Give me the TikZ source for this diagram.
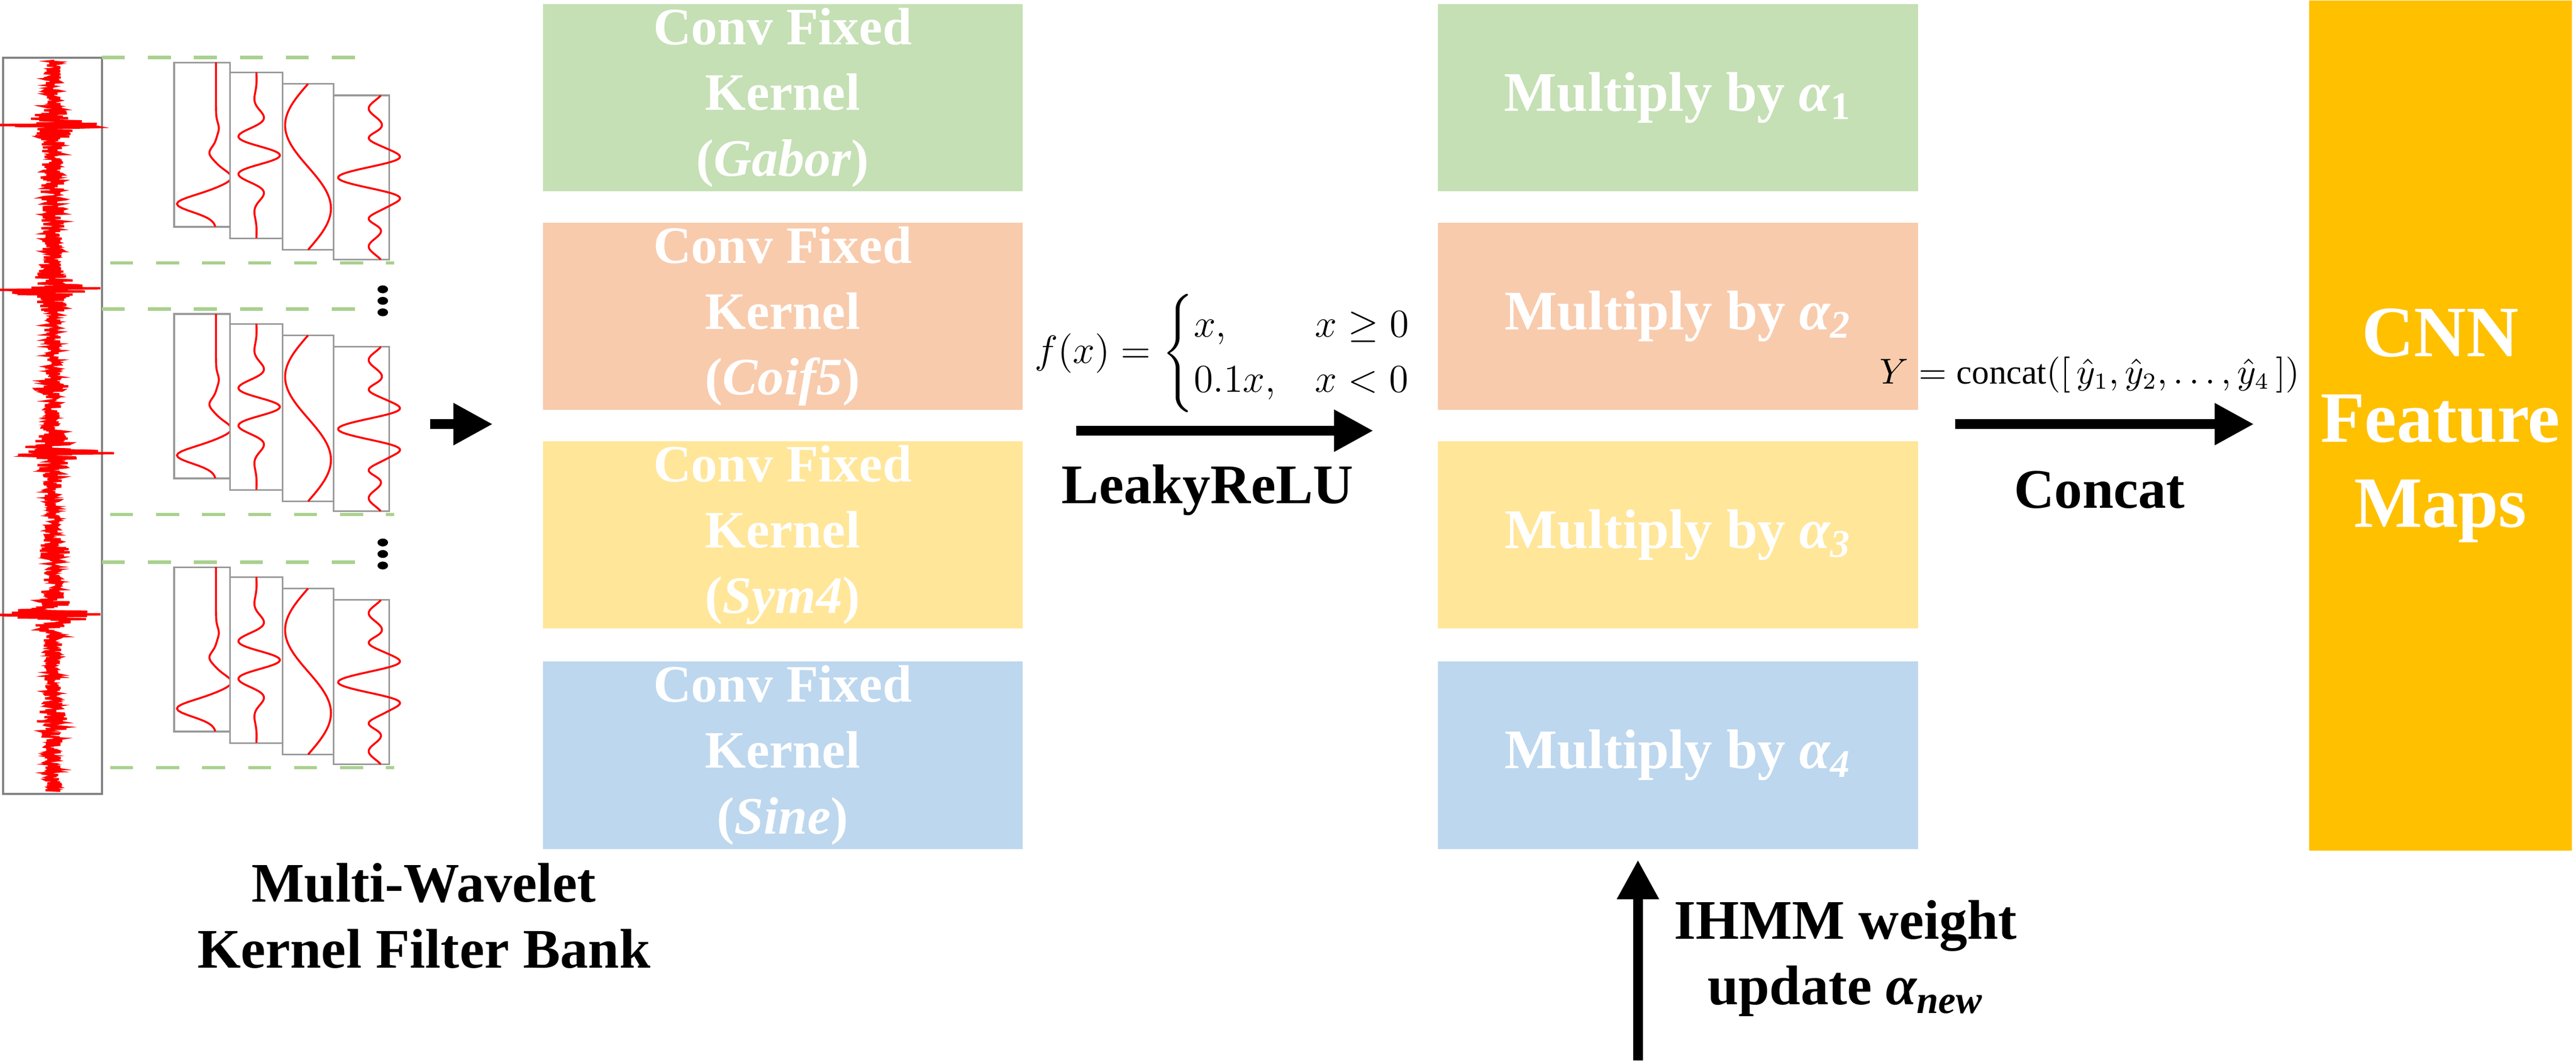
\documentclass[tikz,border=0pt]{standalone}
\usepackage{amsmath}
\usepackage{fontspec}
\setmainfont{Liberation Serif}
\usetikzlibrary{arrows.meta}
\definecolor{cg}{HTML}{C5E0B4}\definecolor{co}{HTML}{F8CBAD}
\definecolor{cy}{HTML}{FFE699}\definecolor{cb}{HTML}{BDD7EE}
\definecolor{cc}{HTML}{FFC000}\definecolor{dg}{HTML}{A9D18E}
\begin{document}
\begin{tikzpicture}[x=0.5pt,y=-0.5pt,
 declare function={gs(\a,\c,\w)=exp(-(min(abs((\a-\c)/\w),6))^2);},
 box/.style={draw=none,minimum width=146pt,minimum height=57pt,anchor=north west,inner sep=0pt,text=white,font=\bfseries\fontsize{16}{20}\selectfont,align=center},
 mbox/.style={box,font=\bfseries\fontsize{17}{20}\selectfont},
 lab/.style={font=\bfseries\fontsize{17}{20}\selectfont,align=center},
 arr/.style={line width=3pt,-{Triangle[length=12pt,width=12pt]}},
 kb/.style={draw=gray!80,line width=0.5pt,fill=white},
 wv/.style={red,line width=0.6pt},
 dsh/.style={dg,line width=1pt,dash pattern=on 7pt off 7pt}]
\useasboundingbox (0,0) rectangle (1568,646);
% signal
\draw[gray,line width=0.6pt] (2,35) rectangle (62,483);
\pgfmathsetseed{7}
\draw[red,line width=0.7pt] plot[samples=1400,domain=37:481] ({32+(5+3*gs(\x,120,30)+29*gs(\x,76,1.5)+10*gs(\x,76,8)+22*gs(\x,176,3)+8*gs(\x,176,12)+7*gs(\x,235,4)+26*gs(\x,275,3)+8*gs(\x,275,12)+6*gs(\x,335,4)+22*gs(\x,374,3)+8*gs(\x,374,12)+5*gs(\x,440,10))*rand},\x);
% kernel groups
\newcommand\kgroup[1]{%
 \begin{scope}[yshift=#1*-0.5pt]
  \draw[kb] (106,38) rectangle (140,138);
  \draw[wv] plot[samples=80,domain=0:1,variable=\t] ({106+34*(0.75-0.7*gs(\t,0.86,0.07)+0.28*gs(\t,0.7,0.06)-0.12*gs(\t,0.55,0.05)+0.05*gs(\t,0.4,0.05))},{38+100*\t});
  \draw[kb] (140,44) rectangle (172,145);
  \draw[wv] plot[samples=120,domain=0:1,variable=\t] ({140+32*(0.5+0.45*gs(\t,0.5,0.22)*sin(1500*(\t-0.5)+90))},{44+101*\t});
  \draw[kb] (172,51) rectangle (203,152);
  \draw[wv] plot[samples=80,domain=0:1,variable=\t] ({172+31*(0.5-0.45*sin(360*\t))},{51+101*\t});
  \draw[kb] (203,58) rectangle (237,158);
  \draw[wv] plot[samples=120,domain=0:1,variable=\t] ({203+34*(0.93-0.85*gs(\t,0.5,0.07)-0.3*gs(\t,0.26,0.05)-0.3*gs(\t,0.75,0.05)-0.3*gs(\t,0.08,0.07)-0.3*gs(\t,0.92,0.07)+0.3*gs(\t,0.38,0.05)+0.3*gs(\t,0.62,0.05))},{58+100*\t});
  \draw[dsh] (62,35) -- (222,35);
  \draw[dsh] (67,160) -- (240,160);
 \end{scope}}
\kgroup{0}\kgroup{153}\kgroup{307}
\foreach \yy in {176,183,190,330,337,344} \fill (233,\yy) ellipse (1.6pt and 1.2pt);
\coordinate (a0) at (262,258); \coordinate (a1) at (300,258);
\draw[arr] (a0) -- (a1);
\node[lab] (mw) at (258,557) {Multi-Wavelet\\Kernel Filter Bank};
% conv boxes
\node[box,fill=cg] (g) at (330,2) {Conv Fixed\\Kernel\\(\textit{Gabor})};
\node[box,fill=co] (o) at (330,135) {Conv Fixed\\Kernel\\(\textit{Coif5})};
\node[box,fill=cy] (y) at (330,268) {Conv Fixed\\Kernel\\(\textit{Sym4})};
\node[box,fill=cb] (b) at (330,402) {Conv Fixed\\Kernel\\(\textit{Sine})};
% multiply
\node[mbox,fill=cg] (m1) at (875,2) {Multiply by \textit{α}\textsubscript{1}};
\node[mbox,fill=co] (m2) at (875,135) {Multiply by \textit{α\textsubscript{2}}};
\node[mbox,fill=cy] (m3) at (875,268) {Multiply by \textit{α\textsubscript{3}}};
\node[mbox,fill=cb] (m4) at (875,402) {Multiply by \textit{α\textsubscript{4}}};
\node[box,fill=cc,minimum width=80pt,minimum height=258.5pt,font=\bfseries\fontsize{22}{26}\selectfont] (cnn) at (1405,0) {CNN\\Feature\\Maps};
% leaky
\coordinate (l0) at (655,262); \coordinate (l1) at (836,262);
\draw[arr] (l0) -- (l1);
\node[font=\fontsize{12}{14}\selectfont] (fx) at (745,215) {$f(x)=\begin{cases}x, & x\ge 0\\ 0.1x, & x<0\end{cases}$};
\node[lab] (lr) at (735,298) {LeakyReLU};
% concat
\coordinate (c0) at (1190,258); \coordinate (c1) at (1372,258);
\draw[arr] (c0) -- (c1);
\node[font=\fontsize{10.5}{12}\selectfont,inner sep=0pt] (cf) at (1272,228) {$Y=\mathrm{concat}([\,\hat{y}_1,\hat{y}_2,\ldots,\hat{y}_4\,])$};
\node[lab] (ct) at (1278,298) {Concat};
% IHMM
\coordinate (i0) at (997,645); \coordinate (i1) at (997,523);
\draw[arr] (i0) -- (i1);
\node[lab,anchor=west] (ih) at (1012,583) {IHMM weight\\update \textit{α\textsubscript{new}}};
\end{tikzpicture}
\end{document}
